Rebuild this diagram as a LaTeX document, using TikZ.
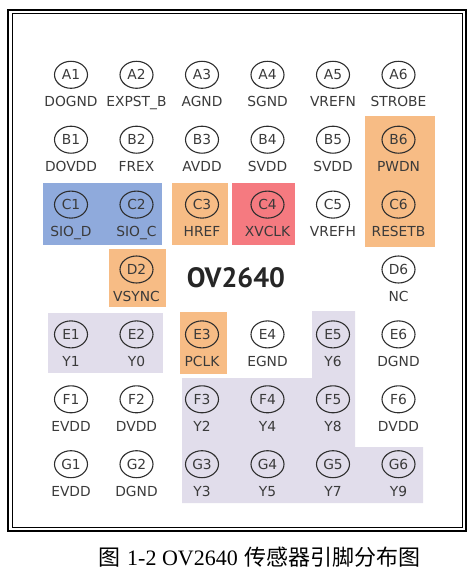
\documentclass[tikz,border=0pt]{standalone}
\usepackage{fontspec}
\usepackage{tikz}
\usetikzlibrary{shapes.geometric}

\newfontfamily\pinfont{DejaVu Sans}
\newfontfamily\titlefont{PT Sans}
\newfontfamily\capfont{Liberation Serif}
\newfontfamily\cjkfont{Noto Sans CJK SC}

\definecolor{hlblue}{HTML}{8FAADC}
\definecolor{hlorange}{HTML}{F7BC85}
\definecolor{hlred}{HTML}{F57A80}
\definecolor{hllav}{HTML}{E1DDEB}
\definecolor{pinline}{HTML}{2E2E2E}
\definecolor{pintext}{HTML}{3A3A3A}

\tikzset{
  ball/.style={draw=pinline, line width=1.1bp, ellipse, minimum width=33bp,
    minimum height=27bp, inner sep=0pt, text=pintext,
    font=\pinfont\fontsize{13.8bp}{15bp}\selectfont},
  signame/.style={anchor=base, inner sep=0pt, text=pintext,
    font=\pinfont\fontsize{13.8bp}{15bp}\selectfont}
}

\begin{document}
\begin{tikzpicture}[x=1bp,y=-1bp]
        \useasboundingbox (0,0) rectangle (474,572);

        % Frame
        \draw[line width=1.6bp] (8,10) rectangle (466,531);
        \draw[line width=1bp] (12,14) rectangle (462,527);

        % Highlights
        \fill[hlblue] (43,183) rectangle (162,245);
        \fill[hlorange] (172,183) rectangle (228,245);
        \fill[hlred] (232,183) rectangle (295,245);
        \fill[hlorange] (365,116) rectangle (435,247);
        \fill[hlorange] (109,249) rectangle (166,307);
        \fill[hllav] (48,313) rectangle (163,373);
        \fill[hlorange] (180,312) rectangle (227,374);
        \fill[hllav] (182,378) -- (312,378) -- (312,311) -- (355,311)
            -- (355,447) -- (423,447) -- (423,503) -- (182,503) -- cycle;

        % Pins
        \foreach \p/\s/\c/\r in {
            A1/DOGND/1/1, A2/EXPST\_B/2/1, A3/AGND/3/1, A4/SGND/4/1, A5/VREFN/5/1, A6/STROBE/6/1,
            B1/DOVDD/1/2, B2/FREX/2/2, B3/AVDD/3/2, B4/SVDD/4/2, B5/SVDD/5/2, B6/PWDN/6/2,
            C1/SIO\_D/1/3, C2/SIO\_C/2/3, C3/HREF/3/3, C4/XVCLK/4/3, C5/VREFH/5/3, C6/RESETB/6/3,
            D2/VSYNC/2/4, D6/NC/6/4,
            E1/Y1/1/5, E2/Y0/2/5, E3/PCLK/3/5, E4/EGND/4/5, E5/Y6/5/5, E6/DGND/6/5,
            F1/EVDD/1/6, F2/DVDD/2/6, F3/Y2/3/6, F4/Y4/4/6, F5/Y8/5/6, F6/DVDD/6/6,
            G1/EVDD/1/7, G2/DGND/2/7, G3/Y3/3/7, G4/Y5/4/7, G5/Y7/5/7, G6/Y9/6/7}
        {
            \node[ball] (\p) at ({5.5+65.5*\c},{9.9+64.9*\r}) {\p};
            \node[signame] (s\p) at ({5.5+65.5*\c},{9.9+64.9*\r+32}) {\s};
        }

        % Title
        \node[anchor=base, inner sep=0pt, text=black!85,
            font=\titlefont\bfseries\fontsize{28bp}{30bp}\selectfont] (chip) at (236,287) {OV2640};

        % Caption
        \node[anchor=base, inner sep=0pt, font=\fontsize{22bp}{24bp}\selectfont] (cap) at (259.5,565)
            {{\cjkfont 图} {\capfont 1-2 OV2640} {\cjkfont 传感器引脚分布图}};
    \end{tikzpicture}
\end{document}
